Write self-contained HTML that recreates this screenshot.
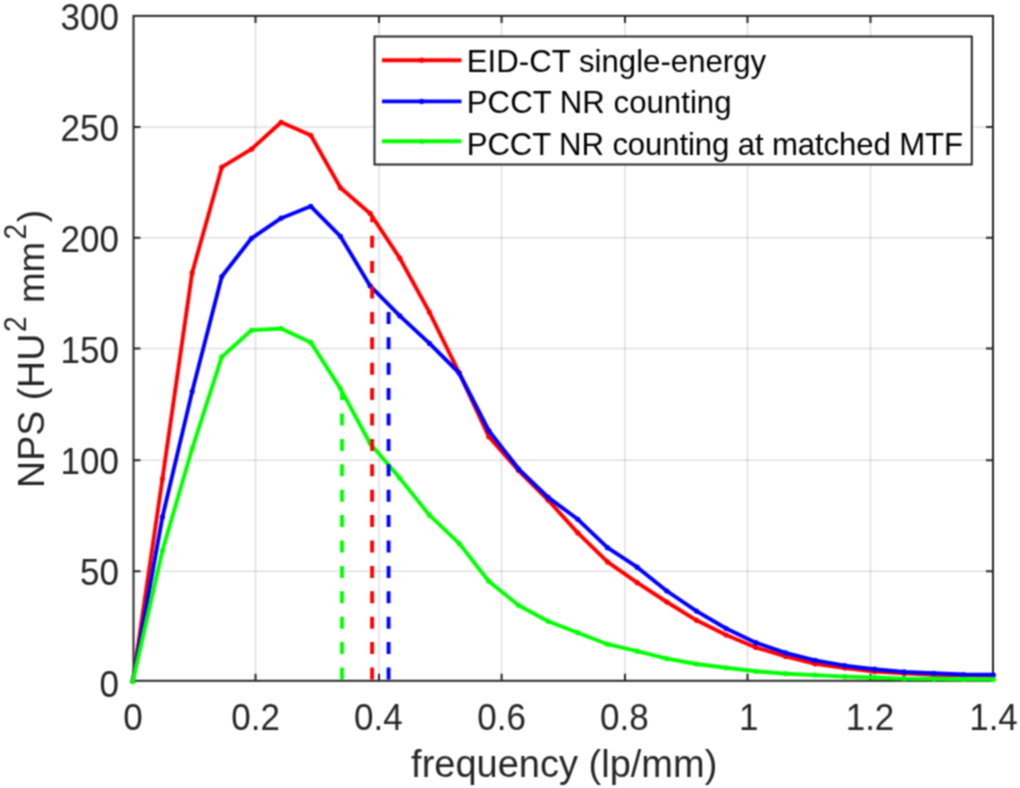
<!DOCTYPE html>
<html><head><meta charset="utf-8"><style>
html,body{margin:0;padding:0;background:#fff;}
body{width:1020px;height:788px;overflow:hidden;}
svg{display:block;}
#w{width:1020px;height:788px;}
text{font-family:"Liberation Sans",sans-serif;fill:#262626;}
</style></head><body><div id="w">
<svg width="1020" height="788" viewBox="0 0 1020 788">
<defs><filter id="soft" filterUnits="userSpaceOnUse" x="0" y="0" width="1020" height="788" color-interpolation-filters="sRGB"><feConvolveMatrix order="3" kernelMatrix="1 2 1 2 4 2 1 2 1" divisor="16" edgeMode="duplicate"/></filter></defs>
<g filter="url(#soft)">
<rect x="0" y="0" width="1020" height="788" fill="#fff"/>
<g stroke="#262626" stroke-opacity="0.15" stroke-width="1.5"><line x1="255.5" y1="15.9" x2="255.5" y2="680.8"/><line x1="379.0" y1="15.9" x2="379.0" y2="680.8"/><line x1="501.6" y1="15.9" x2="501.6" y2="680.8"/><line x1="625.0" y1="15.9" x2="625.0" y2="680.8"/><line x1="747.5" y1="15.9" x2="747.5" y2="680.8"/><line x1="870.5" y1="15.9" x2="870.5" y2="680.8"/><line x1="133.5" y1="571.2" x2="993.0" y2="571.2"/><line x1="133.5" y1="460.3" x2="993.0" y2="460.3"/><line x1="133.5" y1="348.5" x2="993.0" y2="348.5"/><line x1="133.5" y1="237.8" x2="993.0" y2="237.8"/><line x1="133.5" y1="126.9" x2="993.0" y2="126.9"/></g>
<path d="M255.5,680.8V673.8M255.5,15.9V22.9M379.0,680.8V673.8M379.0,15.9V22.9M501.6,680.8V673.8M501.6,15.9V22.9M625.0,680.8V673.8M625.0,15.9V22.9M747.5,680.8V673.8M747.5,15.9V22.9M870.5,680.8V673.8M870.5,15.9V22.9M133.5,571.2H140.5M993.0,571.2H986.0M133.5,460.3H140.5M993.0,460.3H986.0M133.5,348.5H140.5M993.0,348.5H986.0M133.5,237.8H140.5M993.0,237.8H986.0M133.5,126.9H140.5M993.0,126.9H986.0" stroke="#262626" stroke-width="2.0" fill="none"/>
<rect x="133.5" y="15.9" width="859.5" height="664.9" fill="none" stroke="#262626" stroke-width="2.0"/>
<polyline points="132.80,681.20 162.47,478.80 192.14,272.90 221.81,167.20 251.48,149.20 281.15,122.30 310.82,135.30 340.49,187.80 370.16,213.40 399.83,258.20 429.50,312.30 459.17,372.80 488.84,436.80 518.51,470.50 548.18,500.20 577.85,532.90 607.52,561.90 637.19,582.70 666.86,602.00 696.53,620.30 726.20,635.00 755.87,647.50 785.54,656.40 815.21,663.90 844.88,668.00 874.55,671.60 904.22,673.40 933.89,674.70 963.56,675.40 993.23,675.60" fill="none" stroke="#ff0000" stroke-width="3.9" stroke-linejoin="round" stroke-linecap="round"/>
<g fill="#ff0000"><circle cx="132.80" cy="681.20" r="2.6"/><circle cx="162.47" cy="478.80" r="2.6"/><circle cx="192.14" cy="272.90" r="2.6"/><circle cx="221.81" cy="167.20" r="2.6"/><circle cx="251.48" cy="149.20" r="2.6"/><circle cx="281.15" cy="122.30" r="2.6"/><circle cx="310.82" cy="135.30" r="2.6"/><circle cx="340.49" cy="187.80" r="2.6"/><circle cx="370.16" cy="213.40" r="2.6"/><circle cx="399.83" cy="258.20" r="2.6"/><circle cx="429.50" cy="312.30" r="2.6"/><circle cx="459.17" cy="372.80" r="2.6"/><circle cx="488.84" cy="436.80" r="2.6"/><circle cx="518.51" cy="470.50" r="2.6"/><circle cx="548.18" cy="500.20" r="2.6"/><circle cx="577.85" cy="532.90" r="2.6"/><circle cx="607.52" cy="561.90" r="2.6"/><circle cx="637.19" cy="582.70" r="2.6"/><circle cx="666.86" cy="602.00" r="2.6"/><circle cx="696.53" cy="620.30" r="2.6"/><circle cx="726.20" cy="635.00" r="2.6"/><circle cx="755.87" cy="647.50" r="2.6"/><circle cx="785.54" cy="656.40" r="2.6"/><circle cx="815.21" cy="663.90" r="2.6"/><circle cx="844.88" cy="668.00" r="2.6"/><circle cx="874.55" cy="671.60" r="2.6"/><circle cx="904.22" cy="673.40" r="2.6"/><circle cx="933.89" cy="674.70" r="2.6"/><circle cx="963.56" cy="675.40" r="2.6"/><circle cx="993.23" cy="675.60" r="2.6"/></g>
<polyline points="132.80,681.20 162.47,516.90 192.14,391.60 221.81,276.50 251.48,238.30 281.15,218.20 310.82,206.30 340.49,236.40 370.16,285.90 399.83,315.90 429.50,343.40 459.17,373.00 488.84,430.60 518.51,468.80 548.18,497.40 577.85,519.30 607.52,547.70 637.19,567.20 666.86,591.00 696.53,611.10 726.20,628.50 755.87,642.70 785.54,652.80 815.21,660.40 844.88,665.70 874.55,669.20 904.22,671.90 933.89,673.30 963.56,674.50 993.23,674.80" fill="none" stroke="#0000ff" stroke-width="3.9" stroke-linejoin="round" stroke-linecap="round"/>
<g fill="#0000ff"><circle cx="132.80" cy="681.20" r="2.6"/><circle cx="162.47" cy="516.90" r="2.6"/><circle cx="192.14" cy="391.60" r="2.6"/><circle cx="221.81" cy="276.50" r="2.6"/><circle cx="251.48" cy="238.30" r="2.6"/><circle cx="281.15" cy="218.20" r="2.6"/><circle cx="310.82" cy="206.30" r="2.6"/><circle cx="340.49" cy="236.40" r="2.6"/><circle cx="370.16" cy="285.90" r="2.6"/><circle cx="399.83" cy="315.90" r="2.6"/><circle cx="429.50" cy="343.40" r="2.6"/><circle cx="459.17" cy="373.00" r="2.6"/><circle cx="488.84" cy="430.60" r="2.6"/><circle cx="518.51" cy="468.80" r="2.6"/><circle cx="548.18" cy="497.40" r="2.6"/><circle cx="577.85" cy="519.30" r="2.6"/><circle cx="607.52" cy="547.70" r="2.6"/><circle cx="637.19" cy="567.20" r="2.6"/><circle cx="666.86" cy="591.00" r="2.6"/><circle cx="696.53" cy="611.10" r="2.6"/><circle cx="726.20" cy="628.50" r="2.6"/><circle cx="755.87" cy="642.70" r="2.6"/><circle cx="785.54" cy="652.80" r="2.6"/><circle cx="815.21" cy="660.40" r="2.6"/><circle cx="844.88" cy="665.70" r="2.6"/><circle cx="874.55" cy="669.20" r="2.6"/><circle cx="904.22" cy="671.90" r="2.6"/><circle cx="933.89" cy="673.30" r="2.6"/><circle cx="963.56" cy="674.50" r="2.6"/><circle cx="993.23" cy="674.80" r="2.6"/></g>
<polyline points="132.80,681.40 162.47,550.50 192.14,448.80 221.81,356.90 251.48,330.30 281.15,328.50 310.82,342.40 340.49,388.60 370.16,443.50 399.83,478.10 429.50,515.20 459.17,543.40 488.84,581.20 518.51,605.20 548.18,621.30 577.85,632.70 607.52,644.20 637.19,651.20 666.86,658.60 696.53,664.00 726.20,667.80 755.87,671.30 785.54,673.70 815.21,675.10 844.88,676.60 874.55,677.50 904.22,678.60 933.89,678.90 963.56,679.20 993.23,679.40" fill="none" stroke="#00ff00" stroke-width="3.9" stroke-linejoin="round" stroke-linecap="round"/>
<g fill="#00ff00"><circle cx="132.80" cy="681.40" r="2.6"/><circle cx="162.47" cy="550.50" r="2.6"/><circle cx="192.14" cy="448.80" r="2.6"/><circle cx="221.81" cy="356.90" r="2.6"/><circle cx="251.48" cy="330.30" r="2.6"/><circle cx="281.15" cy="328.50" r="2.6"/><circle cx="310.82" cy="342.40" r="2.6"/><circle cx="340.49" cy="388.60" r="2.6"/><circle cx="370.16" cy="443.50" r="2.6"/><circle cx="399.83" cy="478.10" r="2.6"/><circle cx="429.50" cy="515.20" r="2.6"/><circle cx="459.17" cy="543.40" r="2.6"/><circle cx="488.84" cy="581.20" r="2.6"/><circle cx="518.51" cy="605.20" r="2.6"/><circle cx="548.18" cy="621.30" r="2.6"/><circle cx="577.85" cy="632.70" r="2.6"/><circle cx="607.52" cy="644.20" r="2.6"/><circle cx="637.19" cy="651.20" r="2.6"/><circle cx="666.86" cy="658.60" r="2.6"/><circle cx="696.53" cy="664.00" r="2.6"/><circle cx="726.20" cy="667.80" r="2.6"/><circle cx="755.87" cy="671.30" r="2.6"/><circle cx="785.54" cy="673.70" r="2.6"/><circle cx="815.21" cy="675.10" r="2.6"/><circle cx="844.88" cy="676.60" r="2.6"/><circle cx="874.55" cy="677.50" r="2.6"/><circle cx="904.22" cy="678.60" r="2.6"/><circle cx="933.89" cy="678.90" r="2.6"/><circle cx="963.56" cy="679.20" r="2.6"/><circle cx="993.23" cy="679.40" r="2.6"/></g>
<line x1="342.0" y1="681.0" x2="342.0" y2="390.8" stroke="#00ff00" stroke-width="3.9" stroke-dasharray="12 13.4" stroke-dashoffset="23.9"/>
<line x1="372.1" y1="681.0" x2="372.1" y2="215.4" stroke="#ff0000" stroke-width="3.9" stroke-dasharray="12 13.4" stroke-dashoffset="23.9"/>
<line x1="388.6" y1="681.0" x2="388.6" y2="303.7" stroke="#0000ff" stroke-width="3.9" stroke-dasharray="12 13.4" stroke-dashoffset="23.9"/>
<text transform="translate(133.1,729.5) scale(1,1.06)" text-anchor="middle" font-size="35">0</text><text transform="translate(255.6,729.5) scale(1,1.06)" text-anchor="middle" font-size="35">0.2</text><text transform="translate(378.4,729.5) scale(1,1.06)" text-anchor="middle" font-size="35">0.4</text><text transform="translate(501.6,729.5) scale(1,1.06)" text-anchor="middle" font-size="35">0.6</text><text transform="translate(624.3,729.5) scale(1,1.06)" text-anchor="middle" font-size="35">0.8</text><text transform="translate(748.8,729.5) scale(1,1.06)" text-anchor="middle" font-size="35">1</text><text transform="translate(870.0,729.5) scale(1,1.06)" text-anchor="middle" font-size="35">1.2</text><text transform="translate(993.5,729.5) scale(1,1.06)" text-anchor="middle" font-size="35">1.4</text><text transform="translate(118.9,696.6) scale(1,1.06)" text-anchor="end" font-size="35">0</text><text transform="translate(118.9,585.2) scale(1,1.06)" text-anchor="end" font-size="35">50</text><text transform="translate(118.9,474.0) scale(1,1.06)" text-anchor="end" font-size="35">100</text><text transform="translate(118.9,363.0) scale(1,1.06)" text-anchor="end" font-size="35">150</text><text transform="translate(118.9,252.0) scale(1,1.06)" text-anchor="end" font-size="35">200</text><text transform="translate(118.9,140.75) scale(1,1.06)" text-anchor="end" font-size="35">250</text><text transform="translate(118.9,30.0) scale(1,1.06)" text-anchor="end" font-size="35">300</text>
<text x="564.2" y="777" text-anchor="middle" font-size="38">frequency (lp/mm)</text>
<g transform="rotate(-90)"><text x="-487.9" y="43.8" font-size="37.5">NPS (HU</text><text transform="translate(-331.9,26) scale(1,1.12)" font-size="28">2</text><text x="-303.1" y="43.8" font-size="36.7">mm</text><text transform="translate(-239.6,26) scale(1,1.12)" font-size="28">2</text><text x="-222.2" y="43.8" font-size="37.5">)</text></g>
<rect x="374.5" y="36.5" width="597.3" height="128.0" fill="#fff" stroke="#1a1a1a" stroke-width="1.9"/>
<line x1="382" y1="60.2" x2="461.5" y2="60.2" stroke="#ff0000" stroke-width="3.9"/><circle cx="421.7" cy="60.2" r="2.6" fill="#ff0000"/><text transform="translate(466.8,72.1) scale(1,1.035)" font-size="31.2" style="fill:#000">EID-CT single-energy</text>
<line x1="382" y1="101.4" x2="461.5" y2="101.4" stroke="#0000ff" stroke-width="3.9"/><circle cx="421.7" cy="101.4" r="2.6" fill="#0000ff"/><text transform="translate(466.8,113.1) scale(1,1.035)" font-size="31.2" style="fill:#000">PCCT NR counting</text>
<line x1="382" y1="141.3" x2="461.5" y2="141.3" stroke="#00ff00" stroke-width="3.9"/><circle cx="421.7" cy="141.3" r="2.6" fill="#00ff00"/><text transform="translate(466.8,154.6) scale(1,1.035)" font-size="31.2" letter-spacing="-0.145" style="fill:#000">PCCT NR counting at matched MTF</text>
</g></svg></div>
</body></html>
